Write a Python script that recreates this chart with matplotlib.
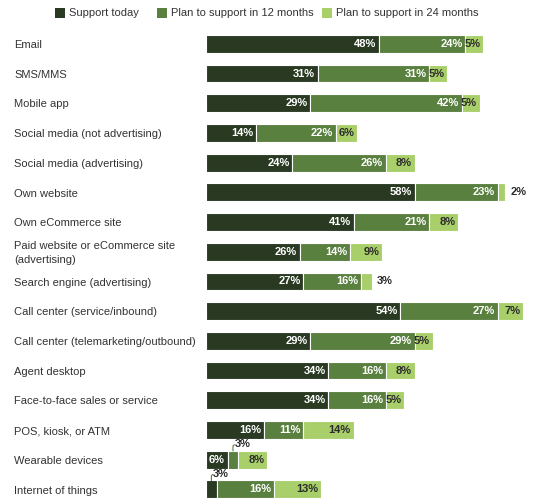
import numpy as np
import matplotlib
matplotlib.use("Agg")
import matplotlib.pyplot as plt
from matplotlib.patches import Rectangle

plt.rcParams['font.family'] = ['Liberation Sans', 'DejaVu Sans']

# -----------------------------
# data
# -----------------------------
channels = [
    "Email", "SMS/MMS", "Mobile app", "Social media (not advertising)",
    "Social media (advertising)", "Own website", "Own eCommerce site",
    "Paid website or eCommerce site\n(advertising)", "Search engine (advertising)",
    "Call center (service/inbound)", "Call center (telemarketing/outbound)",
    "Agent desktop", "Face-to-face sales or service", "POS, kiosk, or ATM",
    "Wearable devices", "Internet of things",
]
today = [48, 31, 29, 14, 24, 58, 41, 26, 27, 54, 29, 34, 34, 16, 6, 3]
in_12 = [24, 31, 42, 22, 26, 23, 21, 14, 16, 27, 29, 16, 16, 11, 3, 16]
in_24 = [5, 5, 5, 6, 8, 2, 8, 9, 3, 7, 5, 8, 5, 14, 8, 13]
series_names = ["Support today", "Plan to support in 12 months",
                "Plan to support in 24 months"]

colors = ["#2a3a22", "#5a8040", "#a9cf6b"]
text_colors = ["white", "white", "#2b2b2b"]

W, H = 540, 503

# -----------------------------
# plot
# -----------------------------
fig = plt.figure(figsize=(W / 100, H / 100), dpi=100)
ax = fig.add_axes([206 / W, 0, 1 - 206 / W, 1 - 29 / H])

y = np.arange(len(channels))
left = np.zeros(len(channels))
for k, vals in enumerate([today, in_12, in_24]):
    vals = np.array(vals, dtype=float)
    ax.barh(y, vals, left=left, height=0.6, color=colors[k],
            edgecolor="white", linewidth=0.8, zorder=2)
    for i, v in enumerate(vals):
        end = left[i] + v
        if v >= 4:
            ax.annotate(f"{int(v)}%", (end, i), xytext=(-2, 0),
                        textcoords="offset points", ha="right", va="center",
                        color=text_colors[k], fontsize=8, fontweight="bold",
                        zorder=5)
        elif channels[i] in ("Wearable devices", "Internet of things"):
            # small value: label above with a leader line
            cx = left[i] + v / 2
            ax.plot([cx, cx, cx + 0.35], [i - 0.3, i - 0.46, i - 0.5],
                    color="#5a8040", lw=0.8, clip_on=False, zorder=5)
            ax.text(cx + 0.5, i - 0.52, f"{int(v)}%", ha="left", va="center",
                    color="#2b2b2b", fontsize=8, fontweight="bold", zorder=6)
        else:
            ax.annotate(f"{int(v)}%", (end, i), xytext=(4, 0),
                        textcoords="offset points", ha="left", va="center",
                        color="#2b2b2b", fontsize=8, fontweight="bold",
                        zorder=5)
    left += vals

ax.set_xlim(0, (W - 206) / 3.6)
ax.set_ylim(-0.5 + 474 / 29.7, -0.5)
ax.set_xticks([])
ax.set_yticks([])
for s in ax.spines.values():
    s.set_visible(False)

for i, name in enumerate(channels):
    fig.text(14 / W, 1 - (45 + i * 29.7) / H, name, ha="left",
             va="center", fontsize=8, color="#333333", linespacing=1.5)

# legend drawn by hand to match the spacing of the original
legend_x = [55, 157, 322]
for c, name, lx in zip(colors, series_names, legend_x):
    fig.add_artist(Rectangle((lx / W, 1 - 18 / H), 10 / W, 10 / H,
                             transform=fig.transFigure, color=c, lw=0))
    fig.text((lx + 14) / W, 1 - 13 / H, name, ha="left", va="center",
             fontsize=8, color="#333333")

plt.savefig("out.png", dpi=100)
